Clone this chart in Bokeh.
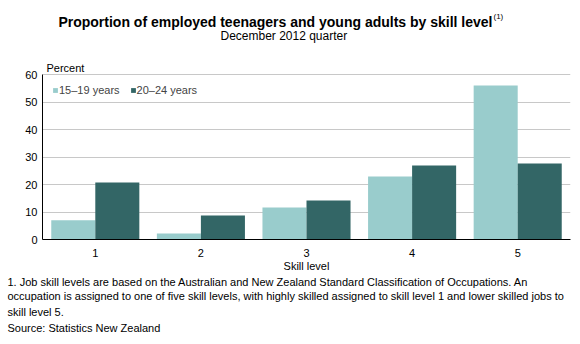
from bokeh.plotting import figure
from bokeh.models import Range1d, FixedTicker, Label, Legend, LegendItem, ColumnDataSource, Title
from bokeh.transform import dodge
from bokeh.embed import file_html
from bokeh.resources import INLINE

skill_levels = [1, 2, 3, 4, 5]
teen_15_19 = [7.0, 2.2, 11.6, 22.9, 56.0]
young_20_24 = [20.7, 8.7, 14.2, 26.9, 27.6]
series_names = ["15\u201319 years", "20\u201324 years"]
colors = ["#99CCCC", "#336666"]
y_ticks = [0, 10, 20, 30, 40, 50, 60]

title_text = "Proportion of employed teenagers and young adults by skill level"
subtitle_text = "December 2012  quarter"
footnote_lines = [
    "1. Job skill levels are based on the Australian and New Zealand Standard Classification of Occupations. An",
    "occupation is assigned to one of five skill levels, with highly skilled assigned to skill level 1 and lower skilled jobs to",
    "skill level 5.",
]
source_text = "Source: Statistics New Zealand"

FONT = "Liberation Sans"
W, H = 580, 344
L, R, B = 42, 10, 105
FRAME_BOTTOM = H - B          # canvas y of value 0
PX_PER_UNIT = 2.75            # vertical scale (165 px for 0..60)
X0, X1 = 0.5, 5.5
Y0 = 0
Y1 = FRAME_BOTTOM / PX_PER_UNIT   # frame reaches the top of the canvas

src = ColumnDataSource(dict(x=skill_levels, a=teen_15_19, b=young_20_24))

p = figure(width=W, height=H, output_backend="svg", toolbar_location=None,
           x_range=Range1d(X0, X1), y_range=Range1d(Y0, Y1),
           min_border_left=L, min_border_right=R, min_border_top=0, min_border_bottom=B)
p.outline_line_color = None
p.background_fill_color = "white"
p.border_fill_color = "white"

bw = 0.417
r1 = p.vbar(x=dodge("x", -bw / 2, range=p.x_range), top="a", width=bw, source=src,
            fill_color=colors[0], line_color=None)
r2 = p.vbar(x=dodge("x", bw / 2, range=p.x_range), top="b", width=bw, source=src,
            fill_color=colors[1], line_color=None)

# axes
p.xaxis.ticker = FixedTicker(ticks=skill_levels)
p.xaxis.major_tick_line_color = None
p.xaxis.minor_tick_line_color = None
p.xaxis.major_tick_out = 0
p.xaxis.major_tick_in = 0
p.xaxis.axis_line_color = "black"
p.xaxis.major_label_text_font = FONT
p.xaxis.major_label_text_font_size = "11px"
p.xaxis.major_label_text_color = "black"
p.xaxis.major_label_standoff = 9
p.xaxis.axis_label = "Skill level"
p.xaxis.axis_label_text_font = FONT
p.xaxis.axis_label_text_font_size = "11px"
p.xaxis.axis_label_text_font_style = "normal"
p.xaxis.axis_label_text_color = "black"
p.xaxis.axis_label_standoff = 0

p.yaxis.ticker = FixedTicker(ticks=y_ticks)
p.yaxis.bounds = (y_ticks[0], y_ticks[-1])
p.yaxis.major_tick_line_color = None
p.yaxis.minor_tick_line_color = None
p.yaxis.major_tick_out = 0
p.yaxis.major_tick_in = 0
p.yaxis.axis_line_color = "black"
p.yaxis.major_label_text_font = FONT
p.yaxis.major_label_text_font_size = "11px"
p.yaxis.major_label_text_color = "black"
p.yaxis.major_label_standoff = 5

p.xgrid.grid_line_color = None
p.ygrid.ticker = FixedTicker(ticks=y_ticks[1:])
p.ygrid.grid_line_color = "#C8C8C8"
p.ygrid.grid_line_width = 1

# legend (bottom-left corner in screen px from the frame's bottom-left)
legend = Legend(items=[LegendItem(label=series_names[0], renderers=[r1]),
                       LegendItem(label=series_names[1], renderers=[r2])],
                orientation="horizontal", location=(10, FRAME_BOTTOM - 96),
                glyph_width=6, glyph_height=6, label_standoff=1, spacing=10,
                padding=0, margin=0, label_height=12,
                label_text_font=FONT, label_text_font_size="11px",
                border_line_color=None, background_fill_alpha=0)
p.add_layout(legend, "center")

fw = W - L - R

def canvas_label(text, cx, cy, size, align="left", bold=False, baseline="middle"):
    dx = X0 + (cx - L) / fw * (X1 - X0)
    dy = (FRAME_BOTTOM - cy) / PX_PER_UNIT
    lab = Label(x=dx, y=dy, text=text, text_font=FONT, text_font_size=size,
                text_font_style="bold" if bold else "normal",
                text_align=align, text_baseline=baseline, text_color="black")
    p.add_layout(lab)

canvas_label(title_text, 492, 21, "14px", align="right", bold=True)
canvas_label("(1)", 493, 16, "8px")
canvas_label(subtitle_text, 285, 35, "12px", align="center")
canvas_label("Percent", 46, 67, "11px")

standoffs = [-1, 0, 4, 0]
for line, so in zip(footnote_lines + [source_text], standoffs):
    t = Title(text=line, align="left", offset=7 - L, standoff=so,
              text_font=FONT, text_font_size="11px", text_font_style="normal",
              text_color="black")
    p.add_layout(t, "below")

open("out.html", "w").write(file_html(p, INLINE))
